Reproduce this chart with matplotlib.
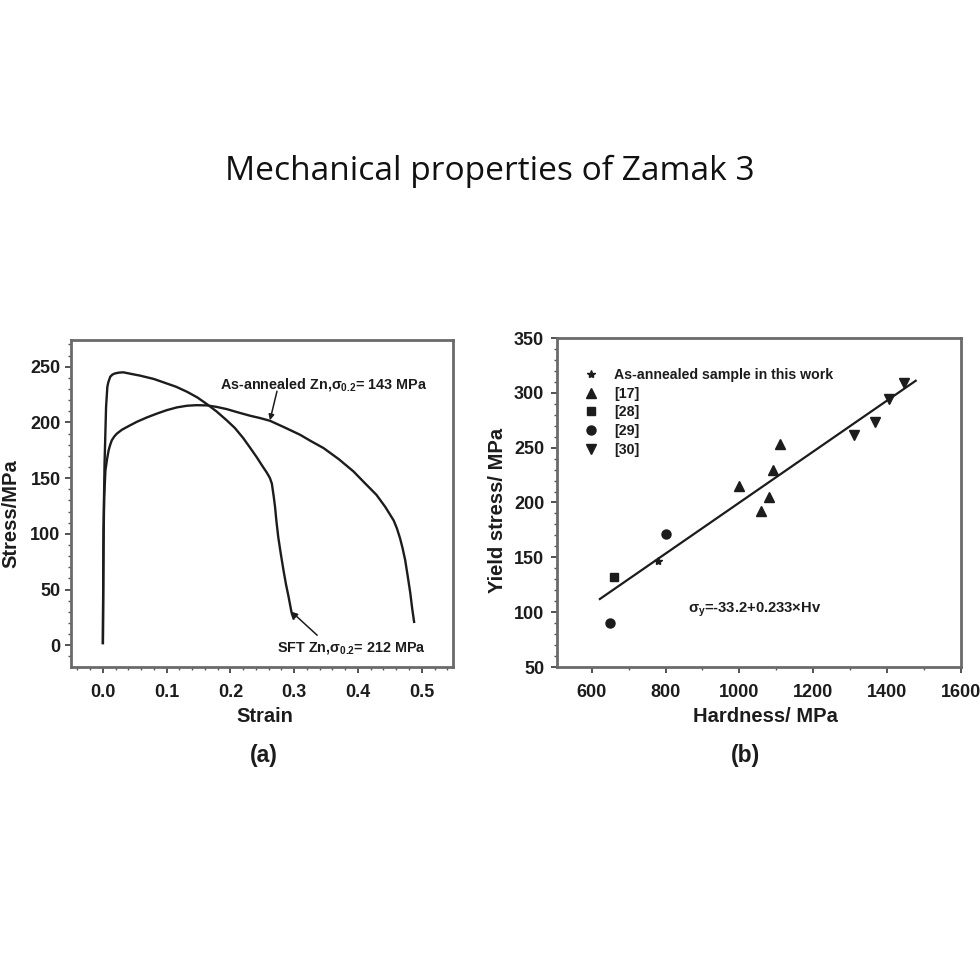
import matplotlib
matplotlib.use("Agg")
import matplotlib.pyplot as plt
from matplotlib.ticker import MultipleLocator

plt.rcParams['font.family'] = ['Liberation Sans', 'DejaVu Sans']
plt.rcParams['mathtext.fontset'] = 'custom'
plt.rcParams['mathtext.rm'] = 'Liberation Sans:bold'
plt.rcParams['mathtext.it'] = 'Liberation Sans:bold'
plt.rcParams['mathtext.bf'] = 'Liberation Sans:bold'

TITLE = "Mechanical properties of Zamak 3"

sft_strain = [0, .001, .0026, .005, .007, .0085, .0115, .015, .019, .025, .032, .045, .0585, .08, .1, .115, .132,
              .148, .163, .178, .194, .207, .22, .23, .241, .25, .257, .262, .265, .268, .27, .272, .275, .279,
              .283, .287, .291, .296, .299]
sft_stress = [2, 103, 163, 214, 232, 236, 241, 243, 244, 244.7, 245, 243.5, 242, 239, 235, 232, 227.5,
              222.5, 216.5, 210, 202, 195, 186, 178, 169, 161, 155, 150, 145, 133, 124, 112, 97, 82,
              68, 55, 44, 29, 24]
ann_strain = [0, .001, .002, .004, .0065, .009, .0115, .014, .018, .022, .03, .038, .053, .069, .085, .1, .116,
              .132, .147, .163, .178, .194, .212, .231, .246, .262, .285, .309, .327, .346, .37, .393, .41,
              .429, .443, .456, .461, .466, .470, .474, .478, .482, .485, .488]
ann_stress = [2, 90, 133, 157, 167, 175, 180, 184, 187.5, 190, 193.5, 196, 200.5, 204.5, 208, 211, 213.5,
              215, 215.5, 215.3, 214, 212, 209, 206, 204, 201.5, 195.5, 189, 183, 177, 167, 156, 146,
              135, 124, 112, 105, 96, 87, 76.5, 62, 47, 33, 21]

star_h, star_y = [780], [147]
tri_h = [1000, 1060, 1080, 1090, 1110]
tri_y = [215, 192, 205, 230, 253]
sq_h, sq_y = [660], [132]
circ_h, circ_y = [650, 800], [90, 171]
down_h = [1312, 1368, 1405, 1445]
down_y = [262, 273, 294, 309]
fit_h, fit_y = [622, 1478], [112, 311]

INK = '#1c1c1c'
W = 980.0
fig = plt.figure(figsize=(9.8, 9.8), dpi=100, facecolor='white')

def make_axes(l, r, t, b):
    return fig.add_axes([l / W, 1 - b / W, (r - l) / W, (b - t) / W])

def style(ax, ypad):
    for s in ax.spines.values():
        s.set_color('#6a6a6a')
        s.set_linewidth(2.0)
    ax.tick_params(which='major', direction='out', length=4, width=1.3, color='#444444',
                   labelsize=13, labelcolor=INK)
    ax.tick_params(axis='x', which='major', pad=8)
    ax.tick_params(axis='y', which='major', pad=ypad)
    ax.tick_params(which='minor', direction='out', length=2, width=1.0, color='#555555')
    for lab in ax.get_xticklabels() + ax.get_yticklabels():
        lab.set_fontweight('bold')

fig.text(490 / W, 1 - 171 / W, TITLE, ha='center', va='center', fontsize=24.1,
         family='Open Sans', color='#111111')

# panel (a)
a = make_axes(71, 453, 340, 667)
a.plot(sft_strain, sft_stress, color=INK, lw=1.7, solid_joinstyle='round')
a.plot(ann_strain, ann_stress, color=INK, lw=1.7, solid_joinstyle='round')
a.set_xlim(-0.05, 0.549)
a.set_ylim(-19.5, 274)
a.xaxis.set_major_locator(MultipleLocator(0.1))
a.xaxis.set_minor_locator(MultipleLocator(0.02))
a.yaxis.set_major_locator(MultipleLocator(50))
a.yaxis.set_minor_locator(MultipleLocator(10))
a.set_xticks([0, .1, .2, .3, .4, .5])
a.set_xticklabels(['0.0', '0.1', '0.2', '0.3', '0.4', '0.5'])
style(a, 3.5)
a.text(0.184, 234, r"As-annealed Zn,$\sigma_{0.2}$= 143 MPa", fontsize=10.4, fontweight='bold',
       color=INK, va='center', ha='left')
a.text(0.273, -2.5, r"SFT Zn,$\sigma_{0.2}$= 212 MPa", fontsize=10.4, fontweight='bold',
       color=INK, va='center', ha='left')
a.annotate('', xy=(0.262, 202), xytext=(0.273, 228),
           arrowprops=dict(arrowstyle='-|>', color=INK, lw=1.1, mutation_scale=8, shrinkA=0, shrinkB=0))
a.annotate('', xy=(0.296, 30), xytext=(0.336, 9),
           arrowprops=dict(arrowstyle='-|>', color=INK, lw=1.1, mutation_scale=8, shrinkA=0, shrinkB=0))
fig.text(265 / W, 1 - 717 / W, 'Strain', ha='center', va='center', fontsize=14.5,
         fontweight='bold', color=INK)
fig.text(11 / W, 1 - 514 / W, 'Stress/MPa', ha='center', va='center', rotation=90, fontsize=14.5,
         fontweight='bold', color=INK)
fig.text(264 / W, 1 - 755 / W, '(a)', ha='center', va='center', fontsize=16.5,
         fontweight='bold', color=INK)

# panel (b)
b = make_axes(556.7, 960.7, 338, 667)
b.plot(fit_h, fit_y, color=INK, lw=1.6, zorder=2)
ms = 6.5
b.plot(star_h, star_y, '*', color=INK, ms=6, ls='none', label='As-annealed sample in this work', zorder=3)
b.plot(tri_h, tri_y, '^', color=INK, ms=ms, ls='none', label='[17]', zorder=3)
b.plot(sq_h, sq_y, 's', color=INK, ms=ms - 0.5, ls='none', label='[28]', zorder=3)
b.plot(circ_h, circ_y, 'o', color=INK, ms=ms, ls='none', label='[29]', zorder=3)
b.plot(down_h, down_y, 'v', color=INK, ms=ms, ls='none', label='[30]', zorder=3)
b.set_xlim(505, 1600)
b.set_ylim(50, 350)
b.xaxis.set_major_locator(MultipleLocator(200))
b.xaxis.set_minor_locator(MultipleLocator(100))
b.yaxis.set_major_locator(MultipleLocator(50))
b.yaxis.set_minor_locator(MultipleLocator(10))
style(b, 5)
leg = b.legend(loc='upper left', bbox_to_anchor=(0.06, 0.909), frameon=False,
               labelspacing=0.33, handletextpad=0.95, handlelength=1.4, borderpad=0, borderaxespad=0,
               prop={'weight': 'bold', 'size': 10.2})
for t in leg.get_texts():
    t.set_color(INK)
b.text(861, 102, r"$\sigma_{y}$=-33.2+0.233×Hv", fontsize=10.6, fontweight='bold', color=INK,
       va='center', ha='left')
fig.text(765 / W, 1 - 717 / W, 'Hardness/ MPa', ha='center', va='center', fontsize=14.5,
         fontweight='bold', color=INK)
fig.text(497 / W, 1 - 510 / W, 'Yield stress/ MPa', ha='center', va='center', rotation=90, fontsize=14.5,
         fontweight='bold', color=INK)
fig.text(745 / W, 1 - 755 / W, '(b)', ha='center', va='center', fontsize=16.5,
         fontweight='bold', color=INK)

fig.savefig('out.png', dpi=100, facecolor='white')
